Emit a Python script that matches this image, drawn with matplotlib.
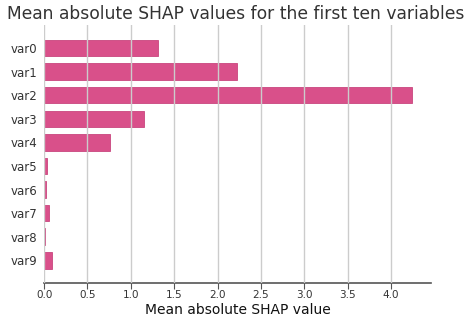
import matplotlib
matplotlib.use("Agg")
import matplotlib.pyplot as plt

# mean |SHAP| per feature
features = ["var0", "var1", "var2", "var3", "var4", "var5", "var6", "var7", "var8", "var9"]
mean_abs_shap = [1.31, 2.22, 4.245, 1.157, 0.757, 0.03, 0.02, 0.058, 0.015, 0.096]

fig = plt.figure(figsize=(4.74, 3.22), dpi=100)
ax = fig.add_axes([0.093, 0.122, 0.816, 0.800])

ax.barh(range(len(features)), mean_abs_shap, height=0.7, color="#d9508a",
        edgecolor="#c9457e", linewidth=0.6, zorder=1)
ax.set_yticks(range(len(features)))
ax.set_yticklabels(features)
ax.set_ylim(9.95, -0.97)
ax.set_xlim(0, 4.46)
ax.set_xticks([0, 0.5, 1, 1.5, 2, 2.5, 3, 3.5, 4])

ax.xaxis.grid(True, color="#cccccc", linewidth=1.0, zorder=2)
ax.set_axisbelow(False)
for s in ["top", "right", "left"]:
    ax.spines[s].set_visible(False)
ax.spines["bottom"].set_color("#555555")
ax.spines["bottom"].set_linewidth(1.2)

ax.tick_params(axis="y", length=0, labelsize=8.5, labelcolor="#333333", pad=5)
ax.tick_params(axis="x", length=4, width=0.8, color="#555555", labelsize=7.5,
               labelcolor="#333333", pad=1.5)

ax.set_xlabel("Mean absolute SHAP value", fontsize=10, color="#111111", labelpad=2)
fig.text(0.497, 0.957, "Mean absolute SHAP values for the first ten variables",
         ha="center", va="center", fontsize=12.3, color="#333333")

plt.savefig("out.png", dpi=100)
